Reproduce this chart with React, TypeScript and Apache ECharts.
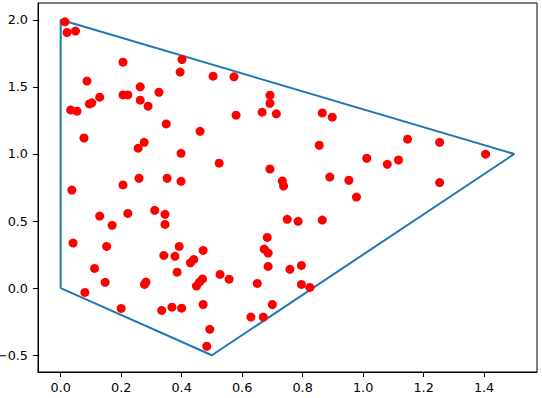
import React, { useEffect, useRef } from "react";
import * as echarts from "echarts";

const polygonX = [0, 0, 1.5, 0.5, 0];
const polygonY = [0, 2, 1, -0.5, 0];

const pointsX = [
  0.014, 0.021, 0.049, 0.206, 0.401, 0.395, 0.087, 0.263, 0.206, 0.222,
  0.263, 0.129, 0.325, 0.095, 0.103, 0.289, 0.033, 0.054, 0.349, 0.461,
  0.077, 0.276, 0.256, 0.398, 0.206, 0.259, 0.352, 0.398, 0.037, 0.504,
  0.573, 0.692, 0.692, 0.666, 0.713, 0.58, 0.865, 0.898, 0.855, 0.524,
  0.692, 0.733, 0.737, 0.89, 0.953, 1.012, 1.147, 1.253, 1.08, 1.117,
  1.405, 1.253, 0.978,
  0.129, 0.222, 0.17, 0.311, 0.345, 0.345, 0.041, 0.152, 0.392, 0.341,
  0.378, 0.471, 0.429, 0.44, 0.385, 0.112, 0.147, 0.277, 0.282, 0.449,
  0.459, 0.469, 0.08, 0.2, 0.334, 0.368, 0.4, 0.471, 0.493, 0.483,
  0.749, 0.785, 0.865, 0.683, 0.673, 0.686, 0.686, 0.758, 0.796, 0.527,
  0.557, 0.65, 0.796, 0.824, 0.7, 0.629, 0.67,
];
const pointsY = [
  1.985, 1.905, 1.916, 1.684, 1.704, 1.61, 1.543, 1.5, 1.44, 1.44,
  1.401, 1.423, 1.46, 1.373, 1.381, 1.356, 1.328, 1.319, 1.224, 1.169,
  1.119, 1.087, 1.043, 1.005, 0.769, 0.819, 0.819, 0.796, 0.731, 1.58,
  1.575, 1.438, 1.378, 1.311, 1.299, 1.289, 1.306, 1.274, 1.065, 0.931,
  0.888, 0.799, 0.761, 0.828, 0.804, 0.968, 1.11, 1.087, 0.923, 0.955,
  0.998, 0.787, 0.679,
  0.537, 0.557, 0.468, 0.58, 0.55, 0.475, 0.336, 0.311, 0.311, 0.244,
  0.237, 0.281, 0.189, 0.214, 0.119, 0.147, 0.043, 0.028, 0.045, 0.015,
  0.045, 0.069, -0.032, -0.151, -0.166, -0.142, -0.149, -0.122, -0.307, -0.433,
  0.513, 0.498, 0.507, 0.378, 0.291, 0.261, 0.162, 0.14, 0.169, 0.102,
  0.067, 0.035, 0.028, 0.005, -0.122, -0.216, -0.216,
];

const xTicks = [0, 0.2, 0.4, 0.6, 0.8, 1.0, 1.2, 1.4];
const yTicks = [-0.5, 0, 0.5, 1.0, 1.5, 2.0];

const fmt = (v: number) => {
  const s = Math.abs(v).toFixed(1);
  return v < -1e-9 ? "\u2212" + s : s;
};

export default function App() {
  const ref = useRef<HTMLDivElement>(null);
  useEffect(() => {
    if (!ref.current) return;
    const chart = echarts.init(ref.current, undefined, { renderer: "svg" });
    const font = "DejaVu Sans";
    chart.setOption({
      animation: false,
      backgroundColor: "#ffffff",
      grid: {
        left: 38,
        right: 5,
        top: 3,
        bottom: 26,
        show: true,
        borderColor: "#000000",
        borderWidth: 1,
        containLabel: false,
        outerBoundsMode: "none",
      },
      xAxis: {
        type: "value",
        min: -0.075,
        max: 1.575,
        splitLine: { show: false },
        axisLine: { show: true, onZero: false, lineStyle: { color: "#000", width: 1 } },
        axisTick: {
          show: true,
          inside: false,
          length: 5,
          customValues: xTicks,
          lineStyle: { color: "#000", width: 1 },
        },
        axisLabel: {
          customValues: xTicks,
          formatter: (v: number) => fmt(v),
          color: "#000",
          fontFamily: font,
          fontSize: 12.8,
          margin: 9,
          hideOverlap: false,
        },
      },
      yAxis: {
        type: "value",
        min: -0.625,
        max: 2.125,
        splitLine: { show: false },
        axisLine: { show: true, onZero: false, lineStyle: { color: "#000", width: 1 } },
        axisTick: {
          show: true,
          inside: false,
          length: 5,
          customValues: yTicks,
          lineStyle: { color: "#000", width: 1 },
        },
        axisLabel: {
          customValues: yTicks,
          formatter: (v: number) => fmt(v),
          color: "#000",
          fontFamily: font,
          fontSize: 12.8,
          margin: 10,
          hideOverlap: false,
        },
      },
      series: [
        {
          type: "line",
          data: polygonX.map((x, i) => [x, polygonY[i]]),
          showSymbol: false,
          symbol: "none",
          lineStyle: { color: "#1f77b4", width: 2 },
          z: 2,
        },
        {
          type: "scatter",
          data: pointsX.map((x, i) => [x, pointsY[i]]),
          symbol: "circle",
          symbolSize: 9,
          itemStyle: { color: "#ff0000", opacity: 1 },
          z: 3,
        },
      ],
    });
    return () => chart.dispose();
  }, []);
  return (
    <div
      ref={ref}
      style={{ position: "absolute", left: 0, top: 0, width: 542, height: 398 }}
    />
  );
}
